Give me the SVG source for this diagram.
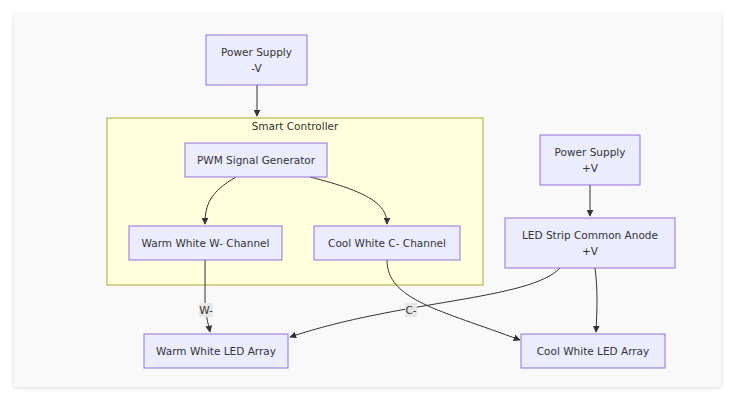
<svg xmlns="http://www.w3.org/2000/svg" width="735" height="401" viewBox="0 0 735 401">
<style>
.n{fill:#ececff;stroke:#9370db;stroke-width:1}
.t{font-family:"Trebuchet MS","DejaVu Sans",sans-serif;font-size:10.5px;fill:#333;text-anchor:middle}
.e{fill:none;stroke:#333;stroke-width:1}
.lb{fill:#e8e8e8}
</style>
<defs>
<marker id="a" viewBox="0 0 10 10" refX="9" refY="5" markerWidth="7" markerHeight="7" orient="auto"><path d="M0,0L10,5L0,10z" fill="#333"/></marker>
<filter id="s" x="-5%" y="-5%" width="110%" height="110%"><feDropShadow dx="0" dy="1" stdDeviation="2" flood-opacity="0.15"/></filter>
</defs>
<rect width="735" height="401" fill="#ffffff"/>
<rect x="14" y="14" width="707" height="373" fill="#f9f9fa" filter="url(#s)"/>
<g id="smart-controller">
<rect x="107" y="118" width="376" height="167" fill="#ffffde" stroke="#aaaa33"/>
<text class="t" x="295" y="130">Smart Controller</text>
</g>
<g id="connectors">
<path class="e" d="M257,85V116" marker-end="url(#a)"/>
<path class="e" d="M236,177C210,192 205,205 205,224" marker-end="url(#a)"/>
<path class="e" d="M310,177C370,192 387,205 387,224" marker-end="url(#a)"/>
<path class="e" d="M590,185V216" marker-end="url(#a)"/>
<path class="e" d="M205,260V300C205,315 208,322 210,332" marker-end="url(#a)"/>
<path class="e" d="M387,260C387,300 440,310 520,340" marker-end="url(#a)"/>
<path class="e" d="M560,268C530,300 400,300 290,337" marker-end="url(#a)"/>
<path class="e" d="M595,268C598,290 597,310 596,332" marker-end="url(#a)"/>
<rect class="lb" x="199" y="303" width="14" height="14"/>
<text class="t" x="206" y="314">W-</text>
<rect class="lb" x="405" y="303" width="12" height="14"/>
<text class="t" x="411" y="314">C-</text>
</g>
<g id="ps-neg"><rect class="n" x="206" y="35" width="101" height="50"/><text class="t" x="256.5" y="56">Power Supply</text><text class="t" x="256.5" y="72">-V</text></g>
<g id="pwm"><rect class="n" x="185" y="143" width="142" height="34"/><text class="t" x="256" y="164">PWM Signal Generator</text></g>
<g id="warm-ch"><rect class="n" x="129" y="226" width="153" height="34"/><text class="t" x="205.5" y="247">Warm White W- Channel</text></g>
<g id="cool-ch"><rect class="n" x="314" y="226" width="146" height="34"/><text class="t" x="387" y="247">Cool White C- Channel</text></g>
<g id="ps-pos"><rect class="n" x="540" y="135" width="100" height="50"/><text class="t" x="590" y="156">Power Supply</text><text class="t" x="590" y="172">+V</text></g>
<g id="anode"><rect class="n" x="505" y="218" width="170" height="50"/><text class="t" x="590" y="239">LED Strip Common Anode</text><text class="t" x="590" y="255">+V</text></g>
<g id="warm-led"><rect class="n" x="144" y="334" width="144" height="34"/><text class="t" x="216" y="355">Warm White LED Array</text></g>
<g id="cool-led"><rect class="n" x="521" y="334" width="144" height="34"/><text class="t" x="593" y="355">Cool White LED Array</text></g>
</svg>
